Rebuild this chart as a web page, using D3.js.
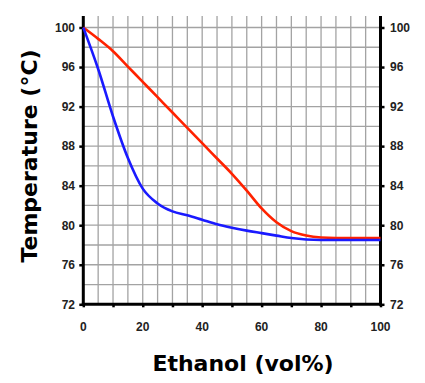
<!DOCTYPE html>
<html><head><meta charset="utf-8">
<script src="https://cdn.jsdelivr.net/npm/d3@7"></script>
<style>body{margin:0;background:#fff;}svg{display:block;}</style>
</head><body>
<script>
const ethanol = [0,5,10,15,20,25,30,35,40,45,50,55,60,65,70,75,80,85,90,95,100];
const liquidTemp = [100,95.8,91.0,86.8,83.7,82.2,81.4,81.0,80.55,80.1,79.75,79.45,79.2,78.95,78.7,78.55,78.5,78.5,78.5,78.5,78.5];
const vaporTemp = [100,98.85,97.6,96.05,94.5,92.95,91.4,89.85,88.3,86.75,85.2,83.5,81.7,80.3,79.4,78.95,78.75,78.7,78.7,78.7,78.7];
const xTickLabels = [0,20,40,60,80,100];
const yTickLabels = [72,76,80,84,88,92,96,100];

const W=425,H=383;
const svg=d3.select("body").append("svg").attr("width",W).attr("height",H);
const x=d3.scaleLinear().domain([0,100]).range([83.3,380.5]);
const y=d3.scaleLinear().domain([72,100]).range([304.3,27.5]);
const yTop=16;

// grid
const g=svg.append("g");
g.selectAll(".vg").data(d3.range(5,100,5)).join("line")
 .attr("x1",d=>x(d)).attr("x2",d=>x(d)).attr("y1",yTop).attr("y2",y(72))
 .attr("stroke","#a3a3a3").attr("stroke-width",1.3);
g.selectAll(".hg").data(d3.range(74,101,2)).join("line")
 .attr("x1",x(0)).attr("x2",x(100)).attr("y1",d=>y(d)).attr("y2",d=>y(d))
 .attr("stroke","#a3a3a3").attr("stroke-width",1.3);

const font="'Liberation Sans', Arial, sans-serif";
// axes
const bottom=svg.append("g").attr("transform",`translate(0,${y(72)})`)
 .call(d3.axisBottom(x).tickValues(d3.range(0,101,10)).tickSize(3).tickFormat(""));
const left=svg.append("g").attr("transform",`translate(${x(0)},0)`)
 .call(d3.axisLeft(y).tickValues(yTickLabels).tickSize(4).tickFormat(""));
const right=svg.append("g").attr("transform",`translate(${x(100)},0)`)
 .call(d3.axisRight(y).tickValues(yTickLabels).tickSize(4).tickFormat(""));
[bottom,left,right].forEach(a=>{a.select(".domain").remove();a.selectAll(".tick line").attr("stroke","#000").attr("stroke-width",2.5);});

svg.append("line").attr("x1",x(0)).attr("x2",x(0)).attr("y1",yTop).attr("y2",y(72)+1.5).attr("stroke","#000").attr("stroke-width",3);
svg.append("line").attr("x1",x(100)).attr("x2",x(100)).attr("y1",yTop).attr("y2",y(72)+1.5).attr("stroke","#000").attr("stroke-width",3);
svg.append("line").attr("x1",x(0)-1.5).attr("x2",x(100)+1.5).attr("y1",y(72)).attr("y2",y(72)).attr("stroke","#000").attr("stroke-width",3);

// tick labels
svg.selectAll(".xl").data(xTickLabels).join("text")
 .attr("x",d=>x(d)).attr("y",331).attr("text-anchor","middle")
 .attr("font-family",font).attr("font-weight","bold").attr("font-size",12).attr("fill","#222").text(d=>d);
svg.selectAll(".yl").data(yTickLabels).join("text")
 .attr("x",75).attr("y",d=>y(d)+4.3).attr("text-anchor","end")
 .attr("font-family",font).attr("font-weight","bold").attr("font-size",12).attr("fill","#222").text(d=>d);
svg.selectAll(".yr").data(yTickLabels).join("text")
 .attr("x",390).attr("y",d=>y(d)+4.3).attr("text-anchor","start")
 .attr("font-family",font).attr("font-weight","bold").attr("font-size",12).attr("fill","#222").text(d=>d);

// lines
const line=(arr)=>d3.line().x((d,i)=>x(ethanol[i])).y(d=>y(d)).curve(d3.curveMonotoneX)(arr);
svg.append("path").attr("d",line(vaporTemp)).attr("fill","none").attr("stroke","#ff2200").attr("stroke-width",2.6);
svg.append("path").attr("d",line(liquidTemp)).attr("fill","none").attr("stroke","#1a1aff").attr("stroke-width",2.6);

// titles
svg.append("text").attr("x",243).attr("y",371).attr("text-anchor","middle")
 .attr("font-family","'DejaVu Sans', Verdana, sans-serif").attr("font-weight","bold").attr("font-size",22).attr("fill","#000").text("Ethanol (vol%)");
svg.append("text").attr("transform","translate(37,156) rotate(-90)").attr("text-anchor","middle")
 .attr("font-family","'DejaVu Sans', Verdana, sans-serif").attr("font-weight","bold").attr("font-size",22).attr("fill","#000").text("Temperature (°C)");
</script>
</body></html>
